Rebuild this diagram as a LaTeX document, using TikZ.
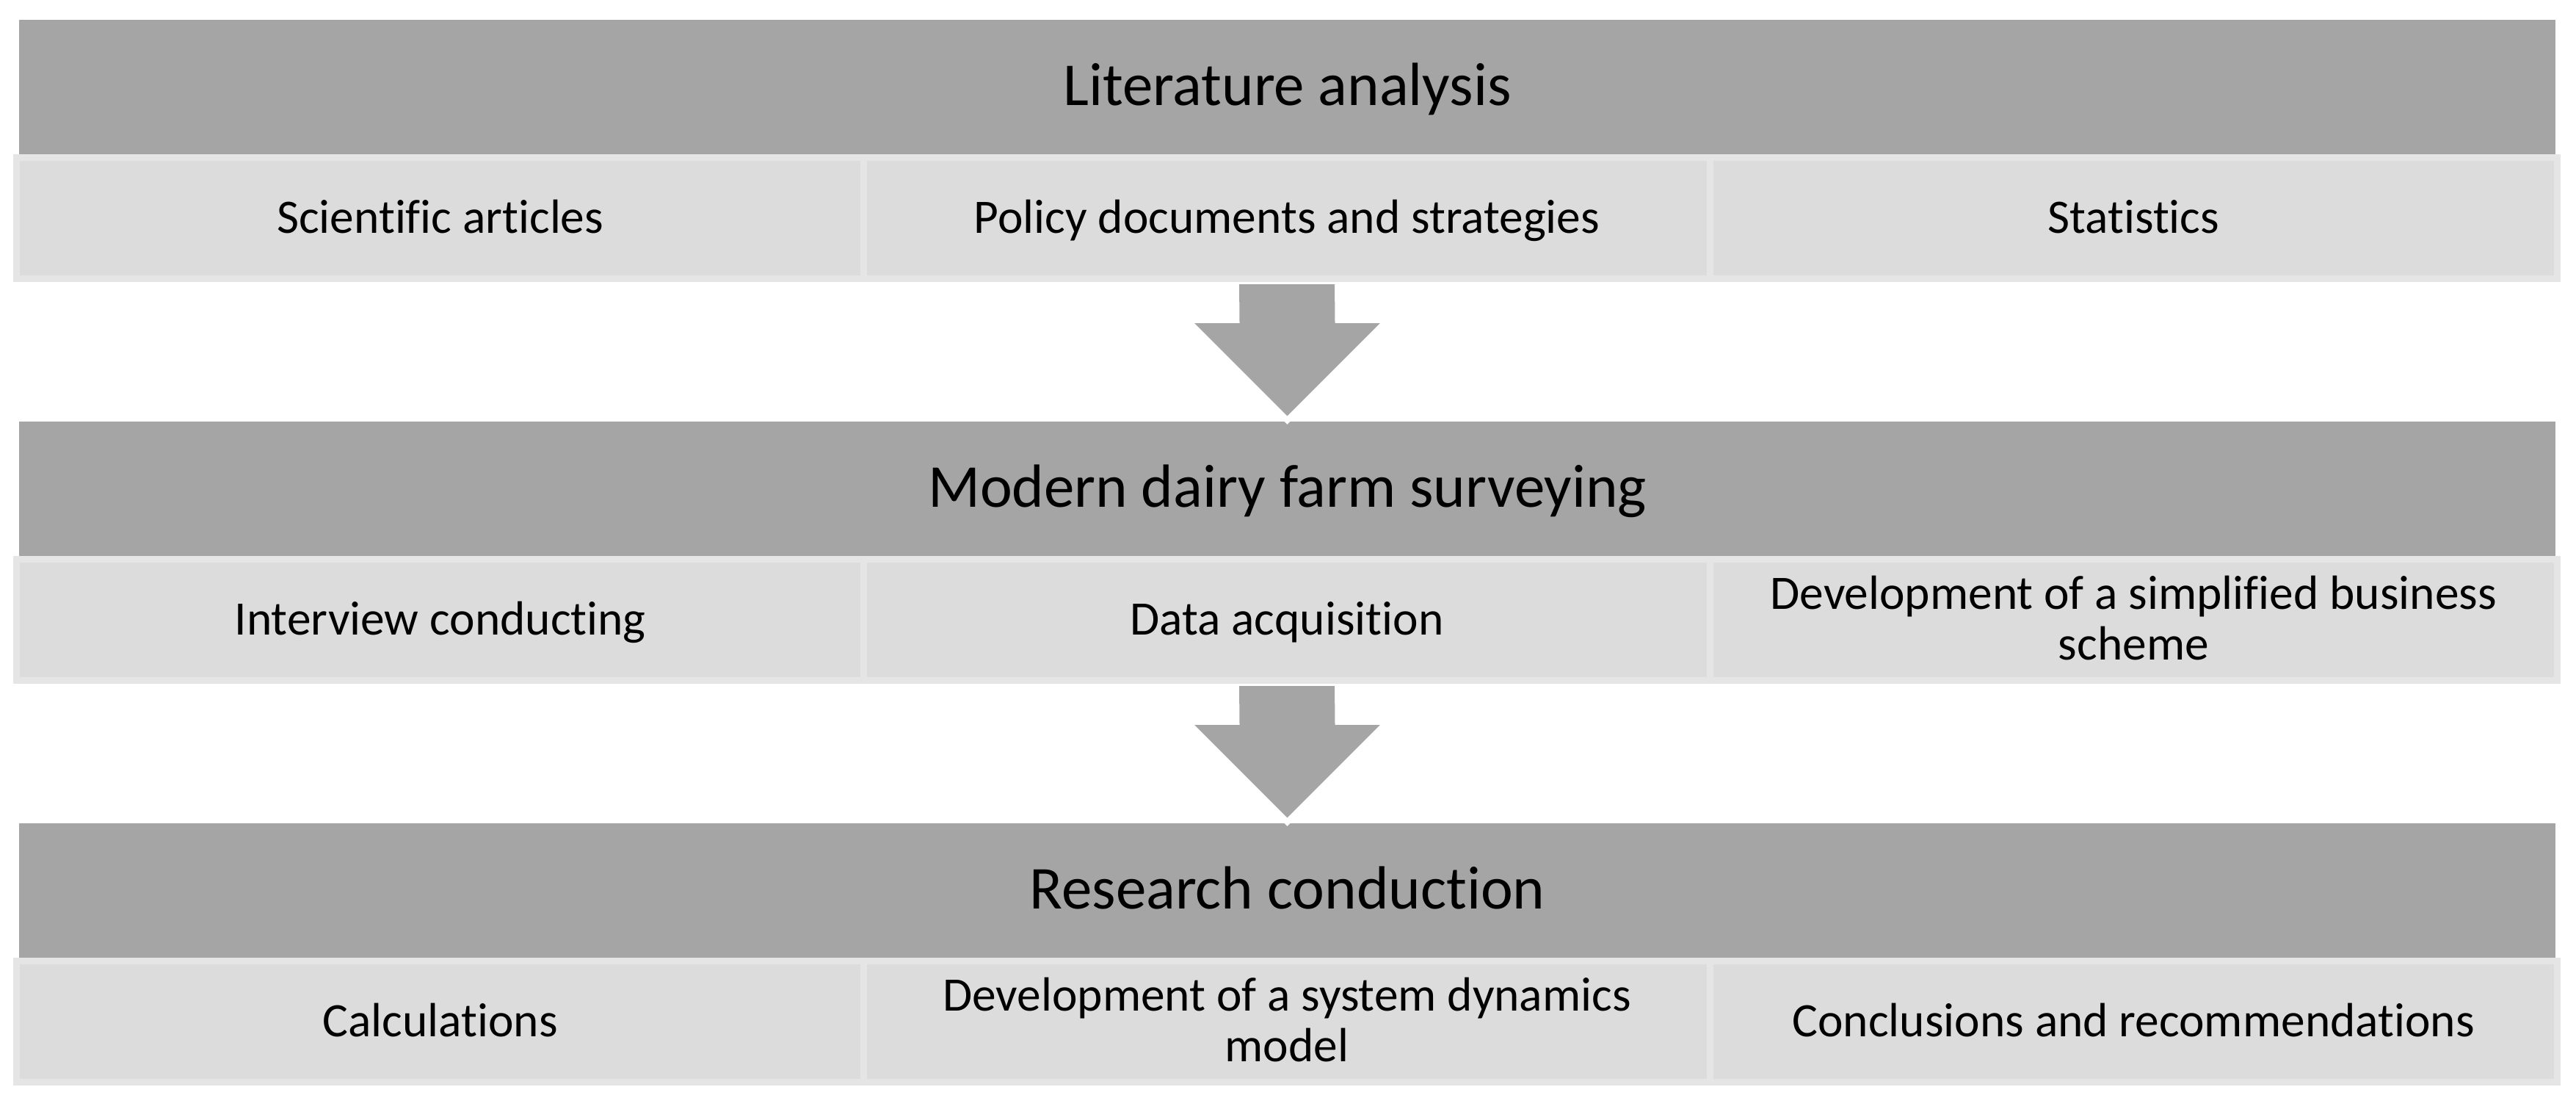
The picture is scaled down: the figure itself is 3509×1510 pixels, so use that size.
\documentclass[tikz,border=0pt]{standalone}
\usepackage{fontspec}
\setmainfont{Carlito}[Ligatures=NoCommon]
\usetikzlibrary{calc}
\definecolor{hdrgray}{HTML}{A5A5A5}
\definecolor{cellgray}{HTML}{DCDCDC}
\definecolor{cellline}{HTML}{E5E5E5}
\newcommand{\cst}{\rule[-0.145cm]{0pt}{0.69cm}}
\tikzset{
  hdr/.style={rectangle, fill=hdrgray, draw=none, inner sep=0pt,
    minimum width=34.53cm, minimum height=1.83cm,
    font=\fontsize{23.6pt}{28pt}\selectfont, text height=0.745cm, text depth=0.255cm},
  cellbox/.style={rectangle, fill=cellgray, draw=cellline, line width=0.09cm,
    minimum width=11.533cm, minimum height=1.65cm, inner sep=0pt, align=center,
    font=\fontsize{18.6pt}{0.69cm}\selectfont},
  arrowshape/.style={fill=hdrgray, draw=none},
  arrowedge/.style={draw=white, line width=0.08cm, line join=miter}
}
\begin{document}
\begin{tikzpicture}[x=0.01cm,y=-0.01cm]
\useasboundingbox (0,0) rectangle (3509,1510);
% row 1
\node[cellbox] (c11) at (599.7,297) {\cst Scientific articles};
\node[cellbox] (c12) at (1753,297) {\cst Policy documents and strategies};
\node[cellbox] (c13) at (2906.3,297) {\cst Statistics};
\node[hdr] (h1) at (1753.5,118.5) {Literature analysis};
% row 2
\node[cellbox] (c21) at (599.7,844) {\cst Interview conducting};
\node[cellbox] (c22) at (1753,844) {\cst Data acquisition};
\node[cellbox] (c23) at (2906.3,844) {\cst Development of a simplified business\\\cst scheme};
\node[hdr] (h2) at (1753.5,665.5) {Modern dairy farm surveying};
% row 3
\node[cellbox] (c31) at (599.7,1391) {\cst Calculations};
\node[cellbox] (c32) at (1753,1391) {\cst Development of a system dynamics\\\cst model};
\node[cellbox] (c33) at (2906.3,1391) {\cst Conclusions and recommendations};
\node[hdr] (h3) at (1753.5,1212.5) {Research conduction};
% arrows
\coordinate (a1t) at ($(c12.south)+(0,3)$);
\coordinate (a1b) at ($(h2.north)+(0,-1)$);
\coordinate (a2t) at ($(c22.south)+(0,3)$);
\coordinate (a2b) at ($(h3.north)+(0,-1)$);
\foreach \t/\b in {a1t/a1b, a2t/a2b}{
  \fill[arrowshape] ($(\t)+(-65,0)$) -- ($(\b)+(-65,-132)$) -- ($(\b)+(-132,-132)$)
    -- (\b) -- ($(\b)+(132,-132)$) -- ($(\b)+(65,-132)$) -- ($(\t)+(65,0)$) -- cycle;
  \draw[arrowedge] ($(\b)+(-132,-132)$) -- (\b) -- ($(\b)+(132,-132)$);
}
\end{tikzpicture}
\end{document}
